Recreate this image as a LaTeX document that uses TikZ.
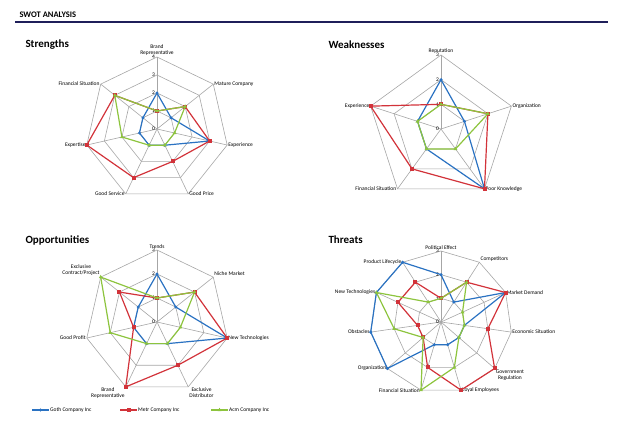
\documentclass[tikz,border=0pt]{standalone}
\usepackage{fontspec}
\setmainfont{Carlito}
\usetikzlibrary{shapes.geometric,calc}
\definecolor{cb}{HTML}{2A72C2}
\definecolor{cr}{HTML}{D2333A}
\definecolor{cg}{HTML}{8DC43E}
\definecolor{navy}{HTML}{1F1F5A}
\tikzset{
 grid/.style={draw=gray!70,line width=0.6pt},
 lab/.style={font=\fontsize{5.5}{6}\selectfont,inner sep=1pt,align=center},
 sc/.style={font=\fontsize{5.5}{6}\selectfont,inner sep=0pt},
 ttl/.style={font=\bfseries\fontsize{11}{12}\selectfont,anchor=west},
 mb/.style={diamond,fill=cb,inner sep=0pt,minimum size=3.5pt},
 mr/.style={rectangle,fill=cr,inner sep=0pt,minimum size=4pt},
 mg/.style={regular polygon,regular polygon sides=3,fill=cg,inner sep=0pt,minimum size=4.5pt},
 ser/.style={line width=1.2pt,line join=round}
}
\newcommand\radarchart[7]{%
 \begin{scope}[shift={(#1,429-#2)}]
  \def\RR{#3}\def\MX{#4}\def\NN{#5}%
  \pgfmathsetmacro\ST{360/#5}%
  \foreach \k in {1,...,#4}{%
   \draw[grid] (90:{\k*#3/#4}) \foreach \j in {1,...,#5}{ -- ({90-\j*\ST}:{\k*#3/#4}) } -- cycle;}
  \foreach \j in {1,...,#5}{\draw[grid] (0,0) -- ({90-\j*\ST}:#3);}
  \foreach \k in {0,...,#4}{\node[sc,anchor=east] at (-2,{\k*#3/#4}) {\k};}
  \foreach \t/\a [count=\j] in {#6}{\node[lab,anchor=\a] at ({90-(\j-1)*\ST}:#3) {\t};}
  #7
 \end{scope}}
\newcommand\series[3]{%
  \foreach \v [count=\j] in {#3}{\coordinate (p\j) at ({90-(\j-1)*\ST}:{\v*\RR/\MX});}
  \draw[ser,#1] (p1) \foreach \j in {2,...,\NN}{ -- (p\j)} -- cycle;
  \foreach \j in {1,...,\NN}{\node[#2] at (p\j) {};}}
\begin{document}
\begin{tikzpicture}[x=1pt,y=1pt]
\useasboundingbox (0,0) rectangle (640,429);
\node[anchor=west,font=\bfseries\fontsize{8.5}{9}\selectfont] (h) at (16,414) {SWOT ANALYSIS};
\draw[navy,line width=1.3pt] (15,407) -- (608,407);
\node[ttl] (t1) at (22,384) {Strengths};
\node[ttl] (t2) at (325,384) {Weaknesses};
\node[ttl] (t3) at (22,189) {Opportunities};
\node[ttl] (t4) at (325,189) {Threats};
\radarchart{157}{129}{72}{4}{7}{Brand\\Representative/south,Mature Company/west,Experience/west,Good Price/west,Good Service/east,Expertise/east,Financial Situation/east}{%
 \series{cb}{mb}{2,1,3,1,1,1,1}
 \series{cr}{mr}{1,2,3,2,3,4,3}
 \series{cg}{mg}{1,2,1,1,1,2,3}}
\radarchart{441}{129}{74}{3}{5}{Reputation/south,Organization/west,Poor Knowledge/west,Financial Situation/east,Experience/east}{%
 \series{cb}{mb}{2,1,3,1,1}
 \series{cr}{mr}{1,2,3,2,3}
 \series{cg}{mg}{1,2,1,1,1}}
\radarchart{157}{322}{72}{3}{7}{Trends/south,Niche Market/south west,New Technologies/west,Exclusive\\Distributor/north west,Brand\\Representative/north east,Good Profit/east,Exclusive\\Contract\slash Project/south east}{%
 \series{cb}{mb}{2,1,3,1,1,1,1}
 \series{cr}{mr}{1,2,3,2,3,1,2}
 \series{cg}{mg}{1,2,1,1,1,2,3}}
\radarchart{441}{322}{71}{3}{11}{Political Effect/south,Competitors/south west,Market Demand/west,Economic Situation/west,Government\\Regulation/north west,Loyal Employees/west,Financial Situation/east,Organization/east,Obstacles/east,New Technologies/east,Product Lifecycle/east}{%
 \series{cb}{mb}{2,1,3,1,1,1,1,3,3,3,3}
 \series{cr}{mr}{1,2,3,2,3,3,2,1,1,2,2}
 \series{cg}{mg}{1,2,1,1,1,2,3,1,2,3,1}}
\foreach \c/\m/\t/\x [count=\i] in {cb/mb/Goth Company Inc/32,cr/mr/Metr Company Inc/120,cg/mg/Acm Company Inc/211}{
 \coordinate (la\i) at (\x,19);
 \coordinate (lb\i) at (\x+17,19);
 \draw[\c,line width=1.2pt] (la\i) -- (lb\i);
 \node[\m] (lm\i) at ($(la\i)!0.5!(lb\i)$) {};
 \node[lab,anchor=west] (lt\i) at (lb\i) {\t};}
\end{tikzpicture}
\end{document}
